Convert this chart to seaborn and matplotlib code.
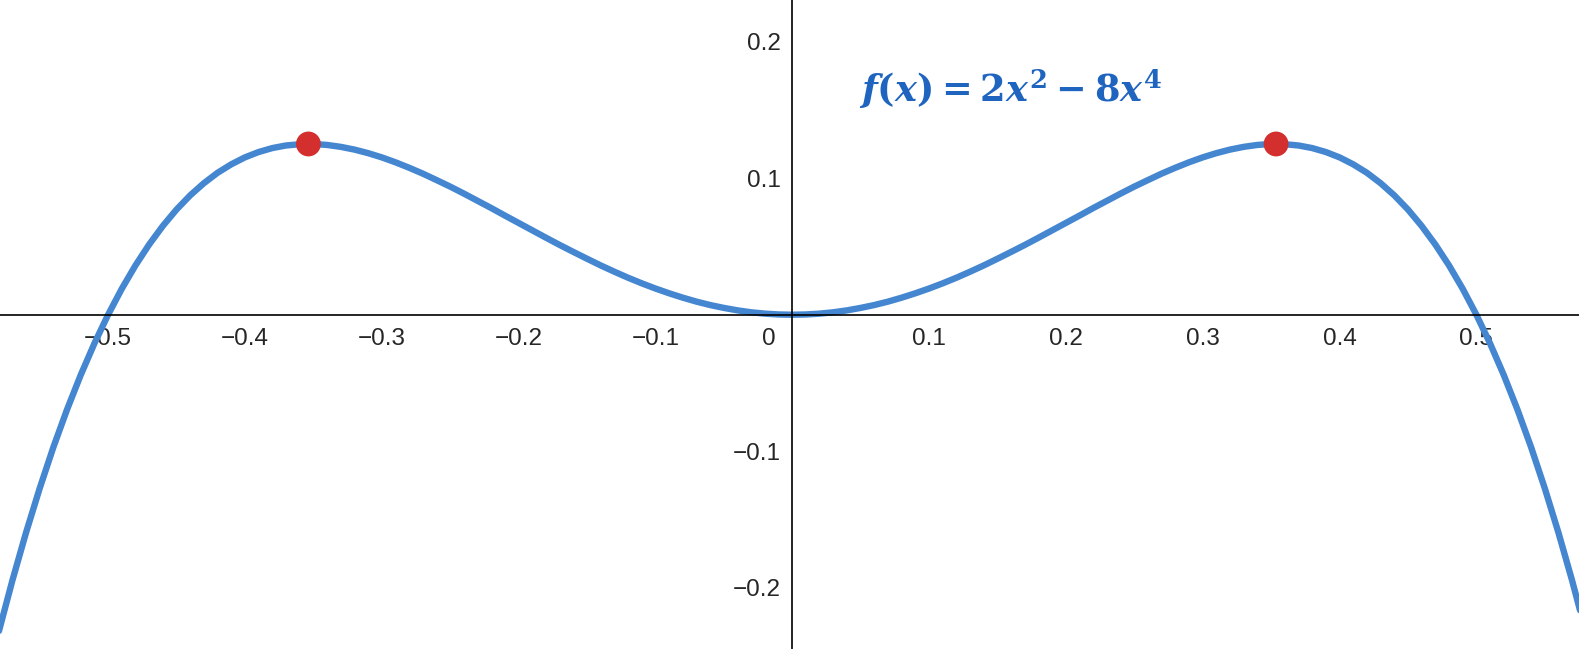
import matplotlib
matplotlib.use("Agg")
import matplotlib.pyplot as plt
import seaborn as sns
import pandas as pd

# curve values (f(x) = 2x^2 - 8x^4), right half; the left half mirrors it
x_right = [0.00, 0.01, 0.02, 0.03, 0.04, 0.05, 0.06, 0.07, 0.08, 0.09,
           0.10, 0.11, 0.12, 0.13, 0.14, 0.15, 0.16, 0.17, 0.18, 0.19,
           0.20, 0.21, 0.22, 0.23, 0.24, 0.25, 0.26, 0.27, 0.28, 0.29,
           0.30, 0.31, 0.32, 0.33, 0.34, 0.35, 0.36, 0.37, 0.38, 0.39,
           0.40, 0.41, 0.42, 0.43, 0.44, 0.45, 0.46, 0.47, 0.48, 0.49,
           0.50, 0.51, 0.52, 0.53, 0.54, 0.55, 0.56, 0.57, 0.58]
y_right = [0.0, 0.0002, 0.0008, 0.0018, 0.0032, 0.0050, 0.0071, 0.0096, 0.0125, 0.0157,
           0.0192, 0.0230, 0.0271, 0.0315, 0.0361, 0.0410, 0.0460, 0.0511, 0.0564, 0.0618,
           0.0672, 0.0726, 0.0781, 0.0834, 0.0887, 0.0938, 0.0986, 0.1033, 0.1076, 0.1116,
           0.1152, 0.1183, 0.1209, 0.1229, 0.1243, 0.1250, 0.1248, 0.1239, 0.1220, 0.1191,
           0.1152, 0.1101, 0.1039, 0.0963, 0.0874, 0.0770, 0.0650, 0.0514, 0.0361, 0.0190,
           0.0, -0.0210, -0.0441, -0.0694, -0.0970, -0.1271, -0.1596, -0.1947, -0.2325]

# maxima
peak_x = [-0.3536, 0.3536]
peak_y = [0.125, 0.125]

x_ticks = [-0.5, -0.4, -0.3, -0.2, -0.1, 0.1, 0.2, 0.3, 0.4, 0.5]
y_ticks = [-0.2, -0.1, 0.1, 0.2]

curve = pd.DataFrame({
    "x": [-v for v in x_right[::-1]] + x_right[1:],
    "y": y_right[::-1] + y_right[1:],
})
peaks = pd.DataFrame({"x": peak_x, "y": peak_y})

sns.set_style("white")
plt.rcParams["font.family"] = ["Liberation Sans", "DejaVu Sans"]
plt.rcParams["mathtext.fontset"] = "custom"
plt.rcParams["mathtext.rm"] = "DejaVu Serif:bold"
plt.rcParams["mathtext.it"] = "DejaVu Serif:bold:italic"
plt.rcParams["mathtext.bf"] = "DejaVu Serif:bold"

fig = plt.figure(figsize=(15.79, 6.49), dpi=100)
ax = fig.add_axes([0, 0, 1, 1])

sns.lineplot(data=curve, x="x", y="y", ax=ax, color="#4486d0", linewidth=4.6,
             sort=False, estimator=None, solid_capstyle="round")
sns.scatterplot(data=peaks, x="x", y="y", ax=ax, color="#d32f2f", s=320,
                edgecolor="none", zorder=5)

ax.set_xlim(-0.579, 0.575)
ax.set_ylim(-0.2447, 0.2304)

for side in ["top", "right"]:
    ax.spines[side].set_visible(False)
for side in ["left", "bottom"]:
    ax.spines[side].set_position(("data", 0))
    ax.spines[side].set_color("black")
    ax.spines[side].set_linewidth(1.2)
    ax.spines[side].set_zorder(3)

ax.set_xticks(x_ticks)
ax.set_yticks(y_ticks)
ax.set_xticklabels([f"{v:g}".replace("-", "\u2212") for v in x_ticks])
ax.set_yticklabels([f"{v:g}".replace("-", "\u2212") for v in y_ticks])
ax.tick_params(axis="both", direction="out", length=4, width=1.1, color="black",
               labelsize=17.5, pad=5.5)
ax.tick_params(axis="y", pad=4.5)
# origin label sits below-left of the origin
ax.text(-0.0125, -0.0095, "0", fontsize=17.5, ha="right", va="top")
ax.set_xlabel("")
ax.set_ylabel("")

ax.text(0.544, 0.843, r"$f(x) = 2x^2 - 8x^4$", transform=ax.transAxes,
        fontsize=26.5, color="#1f65c0", ha="left", va="baseline")

fig.savefig("out.png", dpi=100)
